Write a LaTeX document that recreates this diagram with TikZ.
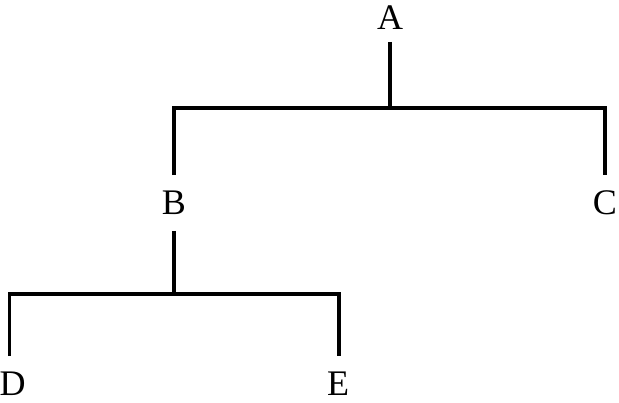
\documentclass[tikz,border=0pt]{standalone}
\usepackage{fontspec}
\setmainfont{Liberation Serif}
\tikzset{
  lbl/.style={anchor=base, inner sep=0pt, outer ysep=16pt, text height=23.8pt, text depth=0pt, font=\fontsize{36}{40}\selectfont},
  branch/.style={line width=3.6pt}
}
\begin{document}
\begin{tikzpicture}[x=1pt,y=-1pt]
        \useasboundingbox (0,0) rectangle (619,403);
        \node[lbl, outer ysep=12pt] (A) at (390,30) {A};
        \node[lbl] (B) at (174,215) {B};
        \node[lbl] (C) at (605,215) {C};
        \node[lbl] (D) at (12.5,396) {D};
        \node[lbl] (E) at (338,396) {E};
        \coordinate (jA) at (390,108);
        \coordinate (jB) at (174,294);
        \draw[branch] (A.south) -- (jA);
        \draw[branch] (B.north) |- (jA) -| (C.north);
        \draw[branch] (B.south) -- (jB);
        \draw[branch] ([xshift=-3pt]D.north) |- (jB) -| ([xshift=1pt]E.north);
      \end{tikzpicture}
\end{document}
